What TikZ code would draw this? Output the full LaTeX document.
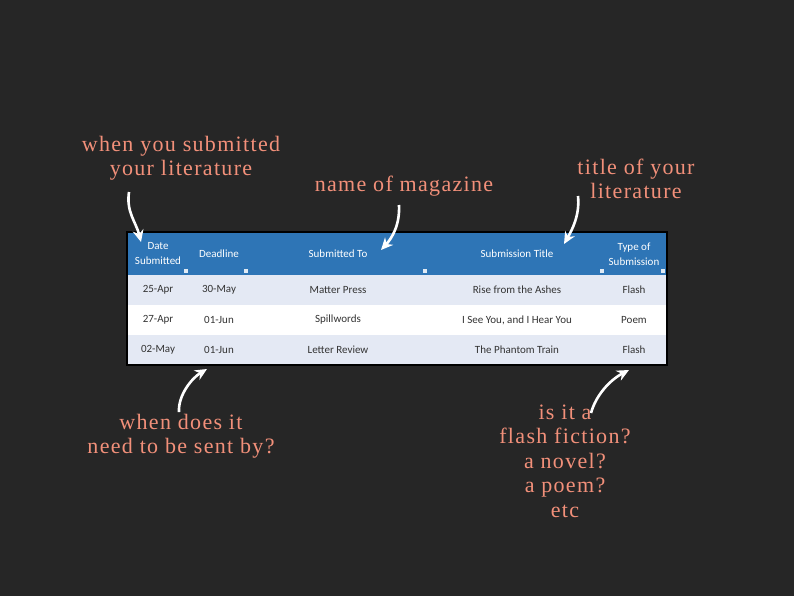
\documentclass[tikz,border=0pt]{standalone}
\usepackage{fontspec}
\setmainfont{Liberation Serif}
\newfontfamily\tabfont{Carlito}
\usetikzlibrary{arrows.meta}
\definecolor{bg}{HTML}{262626}
\definecolor{salmon}{HTML}{F2907A}
\definecolor{hdr}{HTML}{2E75B6}
\definecolor{band}{HTML}{E4E9F4}
\begin{document}
\begin{tikzpicture}[x=1pt,y=-1pt,
  note/.style={text=salmon,font=\fontsize{22}{24.5}\selectfont\addfontfeatures{LetterSpace=6},align=center,inner sep=0},
  hd/.style={text=white,font=\tabfont\fontsize{11}{15}\selectfont,align=center,inner sep=0},
  cell/.style={text=black!80,font=\tabfont\fontsize{11}{12}\selectfont,inner sep=0},
  arr/.style={white,line width=2.6pt,-{Stealth[length=12pt,width=11pt]}}]
\fill[bg] (0,0) rectangle (794,596);
\useasboundingbox (0,0) rectangle (794,596);
% table
\fill[black] (126,231) rectangle (668,366);
\fill[hdr] (128,233) rectangle (666,275);
\fill[band] (128,275) rectangle (666,305);
\fill[white] (128,305) rectangle (666,335);
\fill[band] (128,335) rectangle (666,364);
\foreach \x in {186,246,425,602,663}{\fill[white!85!hdr] (\x-2,269) rectangle (\x+2,273);}
\node[hd] (h1) at (158,254) {Date\\Submitted};
\node[hd] (h2) at (219,254) {Deadline};
\node[hd] (h3) at (338,254) {Submitted To};
\node[hd] (h4) at (517,254) {Submission Title};
\node[hd] (h5) at (634,254) {Type of\\Submission};
\foreach \y/\a/\b/\c/\d/\e in {290/25-Apr/30-May/Matter Press/Rise from the Ashes/Flash,
  320/27-Apr/01-Jun/Spillwords/{I See You, and I Hear You}/Poem,
  350/02-May/01-Jun/Letter Review/The Phantom Train/Flash}{
  \node[cell] at (158,\y) {\a};
  \node[cell] at (219,\y) {\b};
  \node[cell] at (338,\y) {\c};
  \node[cell] at (517,\y) {\d};
  \node[cell] at (634,\y) {\e};}
% notes
\node[note] (n1) at (181,158) {when you submitted\\your literature};
\node[note] (n2) at (404,186) {name of magazine};
\node[note] (n3) at (636,179) {title of your\\literature};
\node[note] (n4) at (181,436) {when does it\\need to be sent by?};
\node[note] (n5) at (565,461) {is it a\\flash fiction?\\a novel?\\a poem?\\etc};
% arrows
\coordinate (a1s) at (129,192); \coordinate (a1e) at (141,242);
\draw[arr] (a1s) .. controls (126,212) and (136,222) .. (a1e);
\coordinate (a2s) at (399,205); \coordinate (a2e) at (381,250);
\draw[arr] (a2s) .. controls (400,225) and (392,238) .. (a2e);
\coordinate (a3s) at (578,196); \coordinate (a3e) at (564,244);
\draw[arr] (a3s) .. controls (580,215) and (572,230) .. (a3e);
\coordinate (a4s) at (179,412); \coordinate (a4e) at (207,369);
\draw[arr] (a4s) .. controls (178,395) and (192,378) .. (a4e);
\coordinate (a5s) at (591,413); \coordinate (a5e) at (629,370);
\draw[arr] (a5s) .. controls (596,395) and (610,380) .. (a5e);
\end{tikzpicture}
\end{document}
